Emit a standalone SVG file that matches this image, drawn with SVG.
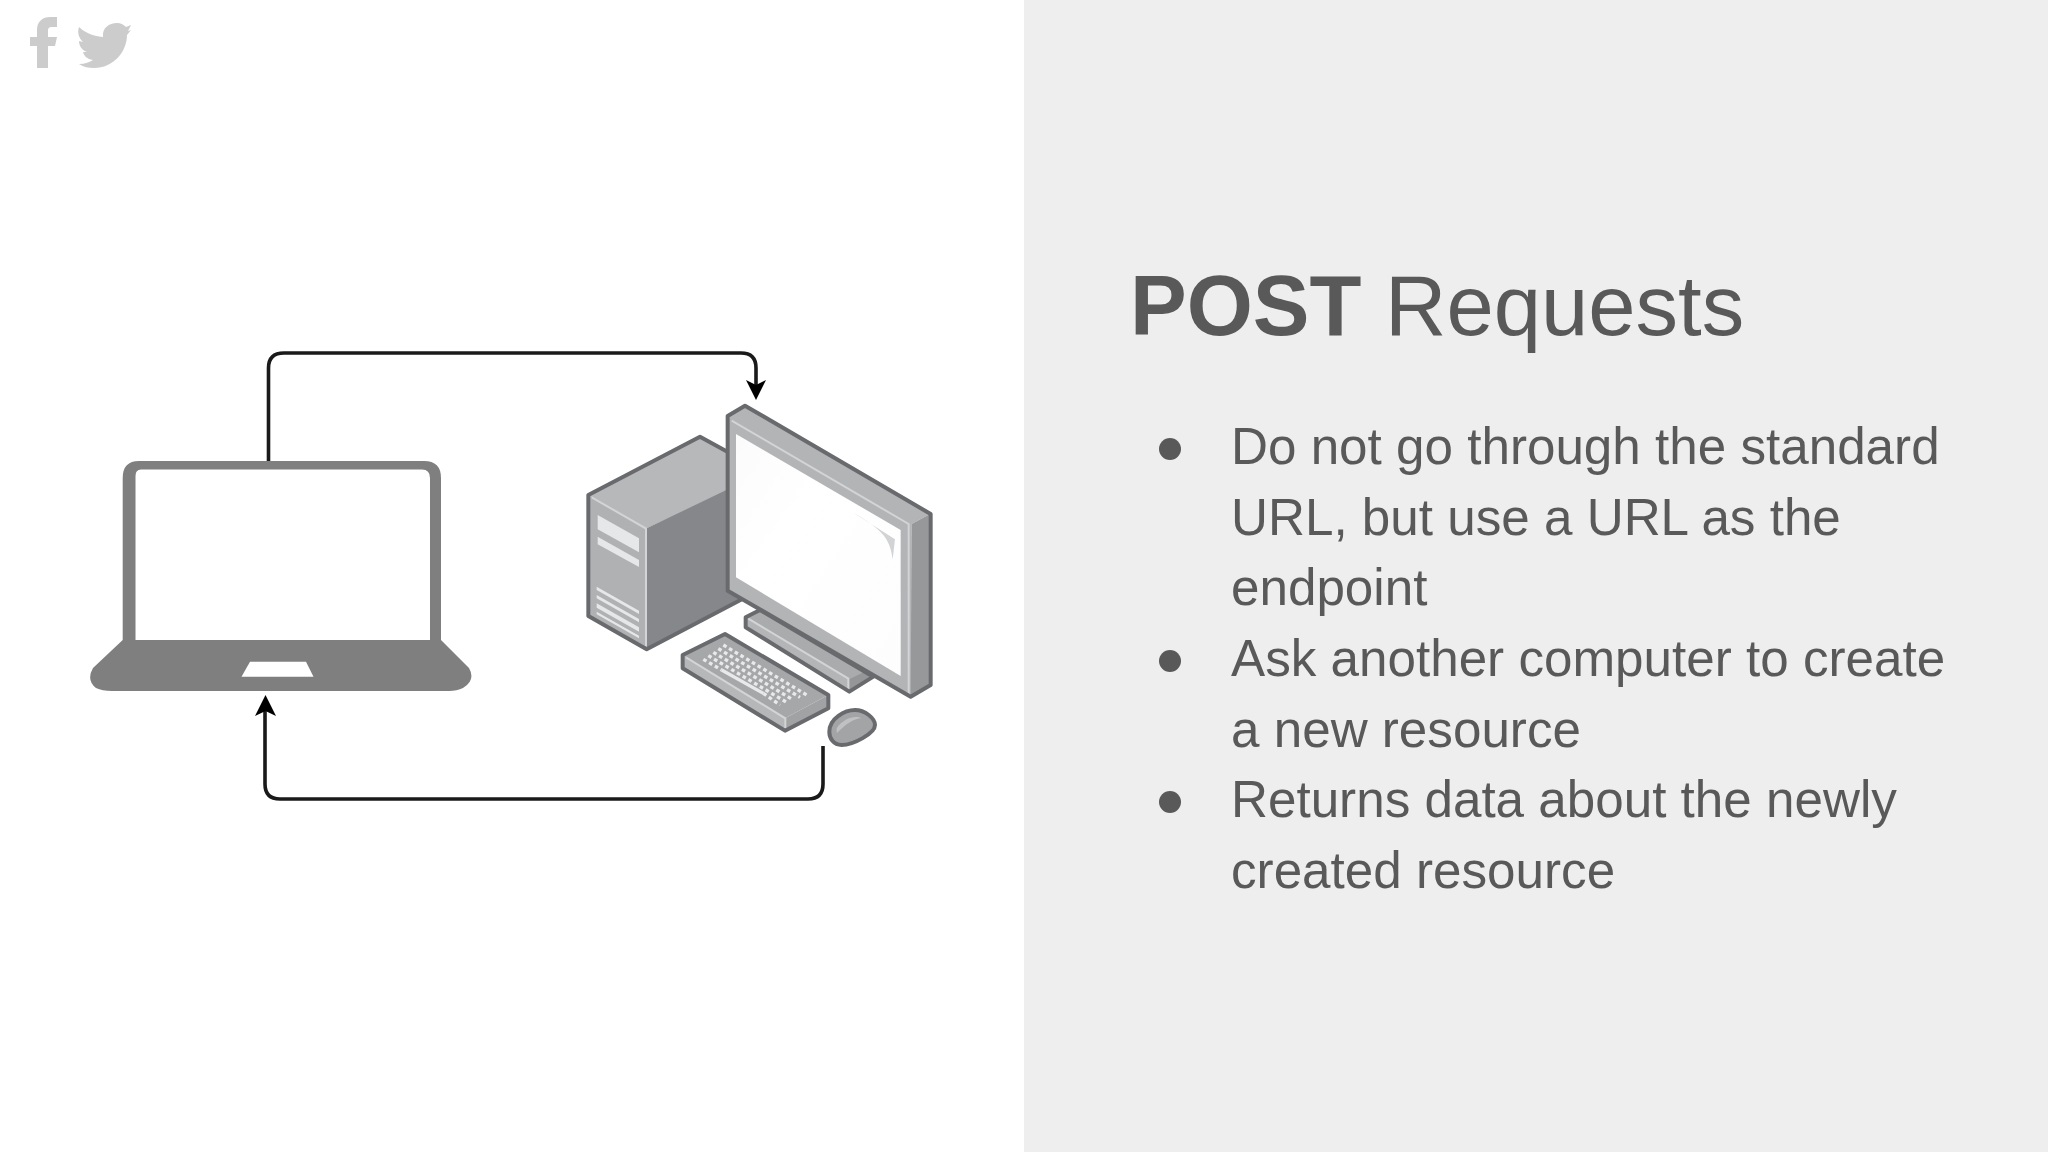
<svg xmlns="http://www.w3.org/2000/svg" width="2048" height="1152" viewBox="0 0 2048 1152">
<style>
text{font-family:"Liberation Sans",Arial,sans-serif;fill:#595959}
.title{font-size:85px}
.body{font-size:51.2px}
.edge{fill:none;stroke:#1a1a1a;stroke-width:3.6}
.head{fill:#000}
.icon{fill:#cccccc}
.lap{fill:#7f7f7f}
.ol{fill:none;stroke:#696b6d;stroke-width:12;stroke-linejoin:round}
.hl{fill:none;stroke:#d3d4d5;stroke-width:6}
.vent{fill:#e6e7e8}
.key{fill:none;stroke:#e8e9ea;stroke-width:10;stroke-dasharray:11 9}
</style>
<defs>
<linearGradient id="scr" x1="0" y1="0" x2="1" y2="1"><stop offset="0" stop-color="#fbfbfb"/><stop offset=".35" stop-color="#ffffff"/><stop offset="1" stop-color="#fdfdfd"/></linearGradient>
<filter id="soft" x="-5%" y="-5%" width="110%" height="110%"><feGaussianBlur stdDeviation="1.5"/></filter>
</defs>
<rect width="2048" height="1152" fill="#ffffff"/>
<rect x="1024" width="1024" height="1152" fill="#eeeeee"/>

<g id="social-icons">
<path class="icon" d="M37 68V46H30V37H37V30C37 21 43 17 50 17H57V27H52C49 27 48 28 48 31V37H57L55 46H48V68Z"/>
<path class="icon" d="M79 27C84 32 92 36 103 37C102 28 109 23 117 23C121 23 124 25 126 27L131 25L128 31L131 30L127 35C127 52 113 68 94 68C88 68 84 67 79 64C85 64 90 62 93 60C87 59 84 56 83 52H87C82 50 79 46 79 41L83 42C79 38 77 33 79 27Z"/>
</g>

<g id="connectors">
<path class="edge" d="M268.500 461V368Q268.500 353 284 353H741Q756 353 756 368V385"/>
<path class="head" d="M756 400L746 380L756 385L766 380Z"/>
<path class="edge" d="M823 746V784Q823 799 808 799H280Q265 799 265 784V710"/>
<path class="head" d="M265.500 695L276 716L265.500 711L255 716Z"/>
</g>

<g id="laptop">
<path class="lap" fill-rule="evenodd" d="M122.700 640V478Q122.700 461 139 461H424Q441 461 441 478V640L469 668Q476 680 463 688Q457 691 449 691H112Q102 691 96 688Q86 680 93 668ZM141 469.500Q135.500 469.500 135.500 476V640H430V478Q430 469.500 422 469.500Z"/>
<path fill="#ffffff" d="M250 661.700H306L313.500 676.700H241.500Z"/>
</g>

<g id="desktop" transform="translate(560 390) scale(.33333)" filter="url(#soft)">
<g id="tower">
<path fill="#b6b8ba" d="M85 315L420 140L520 195V295L260 415Z"/>
<path fill="#85878a" d="M260 415L510 295L560 620L260 778Z"/>
<path fill="#afb1b3" d="M85 315L260 415V778L85 678Z"/>
<path class="hl" d="M95 322L258 416V768"/>
<path class="ol" d="M85 315L420 140L520 195L560 620L260 778L85 678Z"/>
<path class="vent" d="M113 375L237 445V487L113 418Z"/>
<path class="vent" d="M113 440L237 510V531L113 463Z"/>
<path class="vent" d="M110 590L237 662V672L110 600ZM110 615L237 687V697L110 625ZM110 640L237 712V725L110 653ZM110 665L237 737V745L110 673Z"/>
</g>
<g id="stand">
<path fill="#a9abad" d="M557 682L600 660L940 860L868 905Z"/>
<path fill="#b3b5b7" d="M557 682L868 868V905L557 712Z"/>
<path fill="#949698" d="M868 868L935 835L940 862L868 905Z"/>
<path class="hl" d="M565 686L865 866V900"/>
<path class="ol" d="M557 682L600 660L940 860L868 905L557 712Z"/>
</g>
<g id="monitor">
<path fill="#b2b4b6" d="M503 78L555 47L1110 372L1055 402V920L503 600Z"/>
<path fill="#96989a" d="M1055 402L1110 372V885L1052 920Z"/>
<path class="hl" d="M515 92L1046 402V912"/>
<path fill="url(#scr)" d="M528 132L1022 420V858L528 562Z"/>
<path fill="#d2d3d5" d="M880 368L1005 448L998 508C990 440 960 415 880 368Z"/>
<path class="ol" d="M503 78L555 47L1112 372V885L1052 920L503 602Z"/>
</g>
<g id="keyboard">
<path fill="#a5a7a9" d="M368 795L495 732L805 915L675 985Z"/>
<path fill="#b5b7b9" d="M368 795L675 985V1022L368 835Z"/>
<path fill="#a0a2a4" d="M675 985L805 915V955L675 1022Z"/>
<path class="hl" d="M378 802L676 985V1015"/>
<path class="ol" d="M368 795L495 732L805 915V955L675 1022L368 835Z"/>
<path class="key" d="M430 808L485 840M610 910L660 945M445 797L680 937M460 787L700 930M475 776L720 922M490 765L740 915"/>
<path d="M485 840L610 910" fill="none" stroke="#e8e9ea" stroke-width="10"/>
</g>
<g id="mouse">
<path fill="#a2a4a6" d="M808 1025C808 985 855 960 885 960C915 960 945 985 945 1005C945 1030 880 1065 845 1065C820 1065 808 1045 808 1025Z"/>
<path d="M830 1015C850 985 885 975 905 985C880 985 855 1005 830 1030Z" fill="#bfc1c3"/>
<path class="ol" d="M808 1025C808 985 855 960 885 960C915 960 945 985 945 1005C945 1030 880 1065 845 1065C820 1065 808 1045 808 1025Z"/>
</g>
</g>

<g id="text">
<text class="title" x="1130" y="335"><tspan font-weight="bold">POST</tspan> Requests</text>
<circle cx="1170" cy="449" r="11" fill="#595959"/>
<circle cx="1170" cy="661" r="11" fill="#595959"/>
<circle cx="1170" cy="802" r="11" fill="#595959"/>
<text class="body" x="1231" y="464">Do not go through the standard</text>
<text class="body" x="1231" y="535">URL, but use a URL as the</text>
<text class="body" x="1231" y="605">endpoint</text>
<text class="body" x="1231" y="676">Ask another computer to create</text>
<text class="body" x="1231" y="747">a new resource</text>
<text class="body" x="1231" y="817">Returns data about the newly</text>
<text class="body" x="1231" y="888">created resource</text>
</g>
</svg>
